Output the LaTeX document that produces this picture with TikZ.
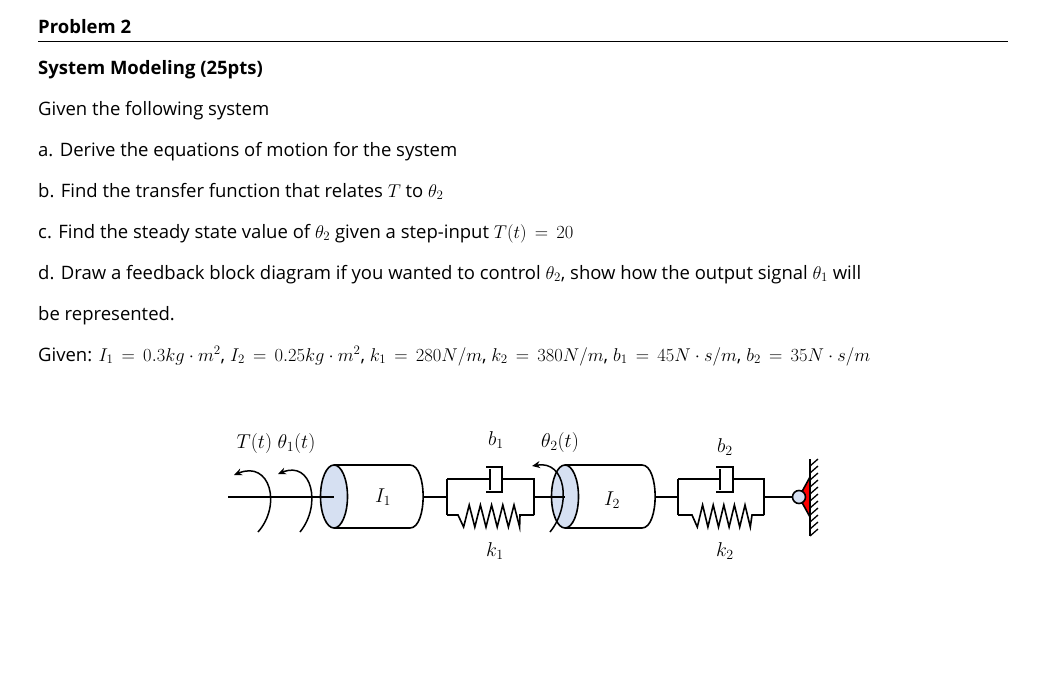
\RequirePackage{fix-cm}
\documentclass[tikz,border=0pt]{standalone}
\usepackage{fontspec}
\setmainfont{Open Sans}
\usetikzlibrary{arrows.meta}
\definecolor{cylblue}{RGB}{214,224,242}
\begin{document}
\begin{tikzpicture}[x=1pt,y=-1pt,
  txt/.style={anchor=base west,inner sep=0,font=\fontsize{18.5}{22}\selectfont},
  hd/.style={anchor=base west,inner sep=0,font=\fontsize{18.5}{22}\selectfont\bfseries},
  lbl/.style={inner sep=0,font=\fontsize{20}{24}\selectfont},
  ln/.style={line width=1.6pt},
  shaft/.style={line width=2pt},
  rot/.style={line width=1.5pt,-{Stealth[length=8pt,width=7pt]}}]
\useasboundingbox (0,0) rectangle (1051,688);
\node[hd] (p2) at (38,33) {Problem 2};
\draw[line width=1pt] (38,41) -- (1008,41);
\node[hd] (sm) at (38,74) {System Modeling (25pts)};
\node[txt] (g) at (38,115) {Given the following system};
\node[txt] (a) at (38,156) {a. Derive the equations of motion for the system};
\node[txt] (b) at (38,197) {b. Find the transfer function that relates $T$ to $\theta_2$};
\node[txt] (c) at (38,238) {c. Find the steady state value of $\theta_2$ given a step-input $T(t)\,=\,20$};
\node[txt] (d) at (38,279) {d. Draw a feedback block diagram if you wanted to control $\theta_2$, show how the output signal $\theta_1$ will};
\node[txt] (e) at (38,320) {be represented.};
\node[txt] (gv) at (38,361) {Given: $I_1\,=\,0.3kg\cdot m^2$, $I_2\,=\,0.25kg\cdot m^2$, $k_1\,=\,280N/m$, $k_2\,=\,380N/m$, $b_1\,=\,45N\cdot s/m$, $b_2\,=\,35N\cdot s/m$};
% shaft left
\draw[shaft] (228,497) -- (334,497);
\draw[rot] (258,532) .. controls (282,505) and (270,460) .. (234,475);
\draw[rot] (300,532) .. controls (322,505) and (312,460) .. (278,474);
% cylinder 1
\draw[ln,fill=white] (334,465) -- (410,465) .. controls (427.5,465) and (427.5,528) .. (410,528) -- (334,528);
\draw[ln,fill=cylblue] (334,496.5) ellipse[x radius=13.5,y radius=31.5];
\draw[shaft] (320,497) -- (334,497);
\node[lbl] (i1) at (383,497) {$I_1$};
% link 1
\draw[ln] (423,497) -- (447,497);
\draw[ln] (447,479) -- (447,515);
\draw[line width=2.6pt] (447,479) -- (490,479);
\draw[ln] (490,469) -- (490,490);
\draw[ln] (486,467) -- (502,467) -- (502,492) -- (486,492);
\draw[ln] (502,479) -- (534,479) -- (534,515);
\draw[ln] (447,515) -- (458,515)
  \foreach \i in {1,...,11}{ -- ({458+\i*5.6},{ifthenelse(mod(\i,2)==1,527,505)}) } -- (520,515) -- (534,515);
\node[lbl] (b1) at (496,440) {$b_1$};
\node[lbl] (k1) at (495,551) {$k_1$};
% cylinder 2
\draw[ln,fill=white] (565,465) -- (642,465) .. controls (659.5,465) and (659.5,528) .. (642,528) -- (565,528);
\draw[ln,fill=cylblue] (565,496.5) ellipse[x radius=13.5,y radius=31.5];
\draw[shaft] (534,497) -- (565,497);
\draw[rot] (550,532) .. controls (572,505) and (566,460) .. (532,466);
\node[lbl] (th2) at (560,442) {$\theta_2(t)$};
\node[lbl] (i2) at (612,500) {$I_2$};
% link 2
\draw[ln] (655,497) -- (678,497);
\draw[ln] (678,479) -- (678,515);
\draw[line width=2.6pt] (678,479) -- (720,479);
\draw[ln] (720,469) -- (720,490);
\draw[ln] (716,467) -- (733,467) -- (733,492) -- (716,492);
\draw[ln] (733,479) -- (764,479) -- (764,515);
\draw[ln] (678,515) -- (692,515)
  \foreach \i in {1,...,11}{ -- ({692+\i*5.3},{ifthenelse(mod(\i,2)==1,527,505)}) } -- (752,515) -- (764,515);
\node[lbl] (b2) at (725,447) {$b_2$};
\node[lbl] (k2) at (725,551) {$k_2$};
\node[lbl] (t1) at (276,443) {$T(t)\;\theta_1(t)$};
% ground
\draw[ln] (764,497) -- (793,497);
\fill[red] (799,497) -- (810,477) -- (810,517) -- cycle;
\draw[ln] (799,497) -- (810,477) (799,497) -- (810,517);
\draw[ln,fill=cylblue] (799,497) circle[radius=6.5];
\draw[line width=2pt] (810,459) -- (810,536);
\foreach \y in {466,473,...,536} \draw[line width=1.3pt] (810,\y) -- (818,\y-7);
\end{tikzpicture}
\end{document}
